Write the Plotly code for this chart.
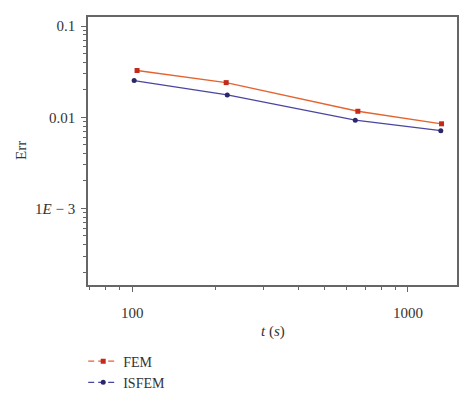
import plotly.graph_objects as go

t_fem = [104, 219, 658, 1324]
err_fem = [0.0326, 0.0240, 0.01164, 0.00848]
t_isfem = [101.5, 221, 644, 1316]
err_isfem = [0.0253, 0.0176, 0.00929, 0.00713]

y_tickvals = [0.1, 0.01, 0.001]
y_ticktext = ["0.1", "0.01", "1<i>E</i> − 3"]
x_tickvals = [100, 1000]
x_ticktext = ["100", "1000"]

FONT = "Liberation Serif, DejaVu Serif, serif"
fem_line, fem_mark = "#e4632f", "#c42a1c"
is_line, is_mark = "#4a45a0", "#2b2868"

y_minor = [m * 10.0 ** e for e in (-4, -3, -2, -1) for m in range(2, 10)]
x_minor = [m * 10.0 ** e for e in (1, 2, 3) for m in range(2, 10)]

fig = go.Figure()
fig.add_trace(go.Scatter(x=t_fem, y=err_fem, mode="lines+markers", showlegend=False,
                         line=dict(color=fem_line, width=1.3),
                         marker=dict(symbol="square", size=5, color=fem_mark)))
fig.add_trace(go.Scatter(x=t_isfem, y=err_isfem, mode="lines+markers", showlegend=False,
                         line=dict(color=is_line, width=1.3),
                         marker=dict(symbol="circle", size=5, color=is_mark)))
fig.add_trace(go.Scatter(x=[None], y=[None], mode="lines+markers", name="FEM",
                         line=dict(color=fem_line, width=1.3, dash="6px,4px"),
                         marker=dict(symbol="square", size=5, color=fem_mark)))
fig.add_trace(go.Scatter(x=[None], y=[None], mode="lines+markers", name="ISFEM",
                         line=dict(color=is_line, width=1.3, dash="6px,4px"),
                         marker=dict(symbol="circle", size=5, color=is_mark)))

axis_common = dict(showline=True, mirror=True, linecolor="#666666", linewidth=1.5,
                   showgrid=False, zeroline=False, ticks="outside", ticklen=5,
                   tickcolor="#666666", tickwidth=1, automargin=False,
                   tickfont=dict(family=FONT, size=15, color="#333333"))

fig.update_xaxes(type="log", range=[1.839, 3.178], tickvals=x_tickvals, ticktext=x_ticktext,
                 ticklabelstandoff=8,
                 minor=dict(ticks="outside", ticklen=3, tickcolor="#666666", showgrid=False,
                            tickvals=x_minor),
                 **axis_common)
fig.update_yaxes(type="log", range=[-3.84, -0.90], tickvals=y_tickvals, ticktext=y_ticktext,
                 ticklabelstandoff=3,
                 minor=dict(ticks="outside", ticklen=3, tickcolor="#666666", showgrid=False,
                            tickvals=y_minor),
                 **axis_common)

fig.add_annotation(text="<i>t</i> (<i>s</i>)", xref="paper", yref="paper", x=0.5, y=0,
                   yshift=-46, showarrow=False, xanchor="center", yanchor="middle",
                   font=dict(family=FONT, size=15, color="#333333"))
fig.add_annotation(text="Err", xref="paper", yref="paper", x=0, y=0.5, xshift=-67,
                   showarrow=False, textangle=-90, xanchor="center", yanchor="middle",
                   font=dict(family=FONT, size=15, color="#333333"))

fig.update_layout(width=474, height=399, margin=dict(l=80, r=25, t=9, b=117),
                  plot_bgcolor="white", paper_bgcolor="white",
                  font=dict(family=FONT, color="#333333"),
                  legend=dict(x=-0.013, y=-0.226, xanchor="left", yanchor="top",
                              font=dict(family=FONT, size=14, color="#333333"),
                              tracegroupgap=0, itemwidth=30, bgcolor="rgba(0,0,0,0)"))

fig.write_html("out.html")
